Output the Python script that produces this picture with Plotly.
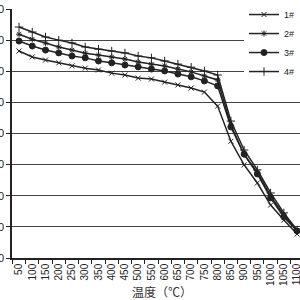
import plotly.graph_objects as go

temps = [str(t) for t in range(50, 1101, 50)]

s1 = [665, 646, 636, 627, 617, 610, 604, 594, 588, 578, 575, 565, 556, 546, 533, 488, 375, 299, 241, 170, 122, 77]
s2 = [719, 703, 691, 678, 668, 658, 652, 646, 639, 630, 623, 617, 607, 598, 585, 572, 427, 331, 276, 199, 138, 87]
s3 = [697, 681, 668, 659, 649, 643, 633, 627, 620, 614, 607, 601, 591, 582, 569, 553, 421, 334, 270, 193, 132, 87]
s4 = [742, 726, 710, 700, 691, 678, 671, 665, 659, 649, 643, 633, 623, 613, 601, 588, 440, 347, 283, 209, 145, 90]

names = ["1#", "2#", "3#", "4#"]
series = [s1, s2, s3, s4]
symbols = ["x-thin-open", "asterisk-open", "circle", "cross-thin-open"]
sizes = [5, 5, 6, 6]

fig = go.Figure()
for name, ys, sym, sz in zip(names, series, symbols, sizes):
    fig.add_trace(go.Scatter(
        x=temps, y=ys, name=name, mode="lines+markers",
        line=dict(color="#222222", width=1.5),
        marker=dict(symbol=sym, size=sz, color="#222222",
                    line=dict(color="#222222", width=1)),
    ))

fig.update_layout(
    width=300, height=300,
    margin=dict(l=12, r=0, t=9, b=42),
    paper_bgcolor="white", plot_bgcolor="white",
    font=dict(family="Liberation Sans, Arial", color="#222222", size=10),
    showlegend=True,
    legend=dict(x=1.0, xanchor="right", y=1.036, yanchor="top",
                bgcolor="white", borderwidth=0,
                font=dict(size=9), tracegroupgap=0,
                itemwidth=30),
    annotations=[dict(text="温度（℃）", xref="paper", yref="paper",
                      x=0.52, y=-0.133, yanchor="middle", showarrow=False,
                      font=dict(family="Noto Sans CJK SC", size=12, color="#333333"))],
)
fig.update_xaxes(
    type="category", range=[-0.53, 21.22], automargin=False,
    tickmode="array", tickvals=temps, ticktext=temps,
    tickson="boundaries", ticks="outside", ticklen=4, tickcolor="#222222",
    tickangle=-90, showline=True, linecolor="#222222", linewidth=1.5,
    showgrid=False, tickfont=dict(size=10, color="#222222"),
)
fig.update_yaxes(
    range=[0, 800], dtick=100, ticks="outside", ticklen=4, tickcolor="#222222",
    automargin=False,
    showline=True, linecolor="#222222", linewidth=1.5,
    showgrid=True, gridcolor="#444444", gridwidth=1, zeroline=False,
    tickfont=dict(size=11, color="#222222"),
)

fig.write_html("out.html")
